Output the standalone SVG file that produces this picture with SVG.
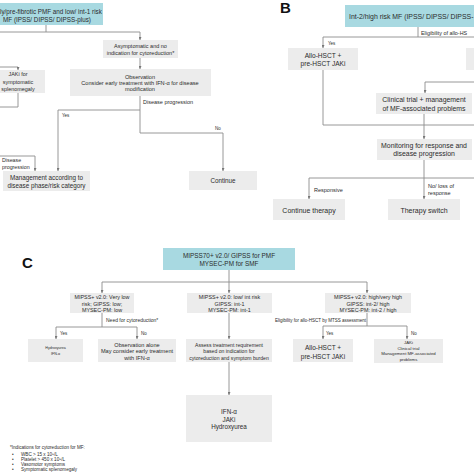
<svg xmlns="http://www.w3.org/2000/svg" width="474" height="474" viewBox="0 0 474 474">
<defs>
<style>
text{font-family:"Liberation Sans",Arial,"DejaVu Sans",sans-serif;fill:#2b2b2b;text-anchor:middle}
.s{text-anchor:start}
.e{text-anchor:end}
.b{fill:#a8d9e1}
.g{fill:#ececec}
.c path{fill:none;stroke:#8c8c8c;stroke-width:0.9}
.c path.a{marker-end:url(#ar)}
.h{font-weight:bold;font-size:15px;fill:#111}
</style>
<marker id="ar" markerWidth="3" markerHeight="3" refX="3" refY="1.5" orient="auto" markerUnits="userSpaceOnUse"><path d="M0,0 L3,1.5 L0,3z" fill="#777"/></marker>
</defs>
<rect width="474" height="474" fill="#fff"/>

<!-- Connectors -->
<g id="connectors" class="c">
<!-- Panel A -->
<path d="M46,25 V32"/>
<path d="M0,32 H140 V40" class="a"/>
<path d="M0,67 H18 V70" class="a"/>
<path d="M18,93 V107 H0"/>
<path d="M140,58 V69" class="a"/>
<path d="M140,96 V133 H223 V171" class="a"/>
<path d="M140,110 H58 V171" class="a"/>
<path d="M0,156 H35 V171" class="a"/>
<!-- Panel B -->
<path d="M418,27 V37"/>
<path d="M474,37 H323 V48" class="a"/>
<path d="M323,70 V125 H474"/>
<path d="M474,82 H425 V93" class="a"/>
<path d="M424,114 V139" class="a"/>
<path d="M424,160 V199" class="a"/>
<path d="M474,178 H309 V199" class="a"/>
<!-- Panel C -->
<path d="M229,270 V293" class="a"/>
<path d="M102,282 H367"/>
<path d="M102,282 V293" class="a"/>
<path d="M367,282 V293" class="a"/>
<path d="M102,313 V327"/>
<path d="M56,327 H137"/>
<path d="M56,327 V339" class="a"/>
<path d="M137,327 V339" class="a"/>
<path d="M229,313 V339" class="a"/>
<path d="M229,362 V395" class="a"/>
<path d="M367,313 V326"/>
<path d="M323,326 H407"/>
<path d="M323,326 V339" class="a"/>
<path d="M407,326 V339" class="a"/>
</g>

<!-- Connector labels -->
<g id="labels">
<text class="s" x="143" y="104" font-size="5.5">Disease progression</text>
<text class="s" x="62" y="117" font-size="4.5">Yes</text>
<text class="s" x="215" y="130" font-size="4.5">No</text>
<text class="s" x="2" y="162" font-size="5.3">Disease</text>
<text class="s" x="2" y="168.5" font-size="5.3">progression</text>
<text class="s" x="421" y="35" font-size="5.4">Eligibility of allo-HS</text>
<text class="s" x="328" y="45" font-size="4.5">Yes</text>
<text class="s" x="314" y="192" font-size="5.5">Responsive</text>
<text class="s" x="428" y="188" font-size="5.5">No/ loss of</text>
<text class="s" x="428" y="195" font-size="5.5">response</text>
<text class="s" x="106" y="321.5" font-size="5">Need for cytoreduction*</text>
<text class="s" x="60" y="335" font-size="4.5">Yes</text>
<text class="s" x="141" y="335" font-size="4.5">No</text>
<text class="e" x="366" y="322" font-size="4.5">Eligibility for allo-HSCT by MTSS assessment</text>
<text class="s" x="326" y="335" font-size="4.5">Yes</text>
<text class="s" x="411" y="335" font-size="4.5">No</text>
</g>

<!-- Panel A nodes -->
<g id="a-start">
<rect class="b" x="-5" y="3" width="108" height="22"/>
<text class="s" x="0" y="13.5" font-size="6.3">ly/pre-fibrotic PMF and low/ int-1 risk</text>
<text x="47" y="21.5" font-size="6.3">MF (IPSS/ DIPSS/ DIPSS-plus)</text>
</g>
<g id="a-asymptomatic">
<rect class="g" x="103" y="40" width="75" height="18"/>
<text x="140.5" y="47.5" font-size="5.5">Asymptomatic and no</text>
<text x="140.5" y="55" font-size="5.5">indication for cytoreduction*</text>
</g>
<g id="a-observation">
<rect class="g" x="70" y="69" width="141" height="27"/>
<text x="140" y="79" font-size="5.6">Observation</text>
<text x="140" y="85" font-size="5.6">Consider early treatment with IFN-α for disease</text>
<text x="140" y="91" font-size="5.6">modification</text>
</g>
<g id="a-jaki">
<rect class="g" x="-5" y="70" width="50" height="23"/>
<text x="18" y="75.5" font-size="5.4">JAKi for</text>
<text x="18" y="83.5" font-size="5.4">symptomatic</text>
<text x="18" y="90.5" font-size="5.4">splenomegaly</text>
</g>
<g id="a-management">
<rect class="g" x="3" y="171" width="87" height="20"/>
<text x="46.5" y="180" font-size="6.3">Management according to</text>
<text x="46.5" y="188" font-size="6.3">disease phase/risk category</text>
</g>
<g id="a-continue">
<rect class="g" x="189" y="171" width="68" height="19"/>
<text x="223" y="183" font-size="6.3">Continue</text>
</g>

<!-- Panel B -->
<text class="h s" x="280" y="13">B</text>
<g id="b-start">
<rect class="b" x="345" y="5" width="140" height="22"/>
<text class="s" x="349" y="18.5" font-size="6.9">Int-2/high risk MF (IPSS/ DIPSS/ DIPSS-</text>
</g>
<g id="b-allo">
<rect class="g" x="288" y="48" width="70" height="22"/>
<text x="323" y="57.5" font-size="6.6">Allo-HSCT +</text>
<text x="323" y="65.5" font-size="6.6">pre-HSCT JAKi</text>
</g>
<g id="b-nonallo">
<rect class="g" x="466" y="48" width="20" height="22"/>
</g>
<g id="b-clinical">
<rect class="g" x="376" y="93" width="96" height="21"/>
<text x="424" y="101.5" font-size="6.9">Clinical trial + management</text>
<text x="424" y="110.5" font-size="6.9">of MF-associated problems</text>
</g>
<g id="b-monitoring">
<rect class="g" x="377" y="139" width="95" height="21"/>
<text x="424" y="148" font-size="6.9">Monitoring for response and</text>
<text x="424" y="156" font-size="6.9">disease progression</text>
</g>
<g id="b-continue">
<rect class="g" x="273" y="199" width="72" height="21"/>
<text x="309" y="212.5" font-size="7">Continue therapy</text>
</g>
<g id="b-switch">
<rect class="g" x="388" y="199" width="72" height="21"/>
<text x="424" y="212.5" font-size="7">Therapy switch</text>
</g>

<!-- Panel C -->
<text class="h s" x="22" y="267.5">C</text>
<g id="c-start">
<rect class="b" x="163" y="248" width="132" height="22"/>
<text x="229" y="258" font-size="6.4">MIPSS70+ v2.0/ GIPSS for PMF</text>
<text x="229" y="266" font-size="6.4">MYSEC-PM for SMF</text>
</g>
<g id="c-low">
<rect class="g" x="70" y="293" width="64" height="20"/>
<text x="102" y="299" font-size="5.4">MIPSS+ v2.0: Very low</text>
<text x="102" y="305.5" font-size="5.4">risk; GIPSS: low;</text>
<text x="102" y="312" font-size="5.4">MYSEC-PM: low</text>
</g>
<g id="c-int">
<rect class="g" x="187" y="293" width="85" height="20"/>
<text x="229.5" y="299" font-size="5.4">MIPSS+ v2.0: low/ int risk</text>
<text x="229.5" y="305.5" font-size="5.4">GIPSS: int-1</text>
<text x="229.5" y="312" font-size="5.4">MYSEC-PM: int-1</text>
</g>
<g id="c-high">
<rect class="g" x="325" y="293" width="86" height="20"/>
<text x="368" y="299" font-size="5.4">MIPSS+ v2.0: high/very high</text>
<text x="368" y="305.5" font-size="5.4">GIPSS: int-2/ high</text>
<text x="368" y="312" font-size="5.4">MYSEC-PM: int-2 / high</text>
</g>
<g id="c-hydroxyurea">
<rect class="g" x="28" y="339" width="55" height="23"/>
<text x="55.5" y="348.5" font-size="3.6">Hydroxyurea</text>
<text x="55.5" y="354.5" font-size="3.6">IFN-α</text>
</g>
<g id="c-observation">
<rect class="g" x="98" y="339" width="78" height="23"/>
<text x="137" y="347" font-size="5.6">Observation alone</text>
<text x="137" y="353" font-size="5.6">May consider early treatment</text>
<text x="137" y="359.5" font-size="5.6">with IFN-α</text>
</g>
<g id="c-assess">
<rect class="g" x="186" y="339" width="86" height="23"/>
<text x="229" y="347" font-size="5.1">Assess treatment requirement</text>
<text x="229" y="353" font-size="5.1">based on indication for</text>
<text x="229" y="359.5" font-size="5.1">cytoreduction and symptom burden</text>
</g>
<g id="c-therapy">
<rect class="g" x="186" y="395" width="86" height="47"/>
<text x="229" y="414" font-size="6.3">IFN-α</text>
<text x="229" y="421.5" font-size="6.3">JAKi</text>
<text x="229" y="429" font-size="6.3">Hydroxyurea</text>
</g>
<g id="c-allo">
<rect class="g" x="293" y="339" width="60" height="23"/>
<text x="323" y="350" font-size="6.5">Allo-HSCT +</text>
<text x="323" y="358.5" font-size="6.5">pre-HSCT JAKi</text>
</g>
<g id="c-jaki">
<rect class="g" x="374" y="339" width="69" height="24"/>
<text x="408.5" y="344" font-size="4.3">JAKi</text>
<text x="408.5" y="349.5" font-size="4.3">Clinical trial</text>
<text x="408.5" y="355" font-size="4.3">Management MF-associated</text>
<text x="408.5" y="360.5" font-size="4.3">problems</text>
</g>

<!-- Footnote -->
<g id="footnote">
<text class="s" x="10" y="448.5" font-size="4.6">*Indications for cytoreduction for MF:</text>
<text class="s" x="12" y="455.5" font-size="4.6">•</text>
<text class="s" x="21" y="455.5" font-size="4.6">WBC &gt; 15 x 10⁹/L</text>
<text class="s" x="12" y="460.5" font-size="4.6">•</text>
<text class="s" x="21" y="460.5" font-size="4.6">Platelet &gt; 450 x 10⁹/L</text>
<text class="s" x="12" y="465.5" font-size="4.6">•</text>
<text class="s" x="21" y="465.5" font-size="4.6">Vasomotor symptoms</text>
<text class="s" x="12" y="470.5" font-size="4.6">•</text>
<text class="s" x="21" y="470.5" font-size="4.6">Symptomatic splenomegaly</text>
</g>
</svg>
